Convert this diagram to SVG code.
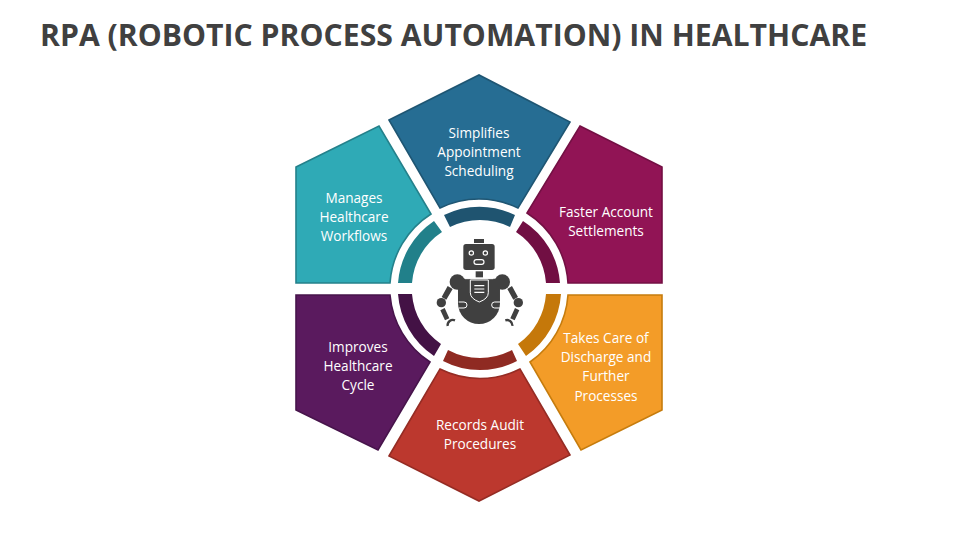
<svg xmlns="http://www.w3.org/2000/svg" width="960" height="540" viewBox="0 0 960 540">
<style>
.t{font-family:"Open Sans","Liberation Sans",sans-serif;font-size:13.6px;font-weight:500;fill:#fff;text-anchor:middle}
.h{font-family:"Open Sans","Liberation Sans",sans-serif;font-size:30.2px;font-weight:700;fill:#404040}
.s{stroke-width:1.6;stroke-linejoin:miter}
.r{fill:#404040}
.w{fill:none;stroke:#fff;stroke-width:3}
</style>
<rect width="960" height="540" fill="#fff"/>
<text class="h" x="40" y="46">RPA (ROBOTIC PROCESS AUTOMATION) IN HEALTHCARE</text>
<g id="connectors"></g>
<g id="node-top">
<path class="s" d="M389 120L479 75L570 122L518 208A89 89 0 0 0 440 208Z" fill="#266d93" stroke="#1f5673"/>
<path d="M444 215A80 80 0 0 1 515 215L510 227A68 68 0 0 0 450 227Z" fill="#1f5470"/>
<text class="t" x="479" y="138">Simplifies</text><text class="t" x="479" y="157">Appointment</text><text class="t" x="479" y="176">Scheduling</text>
</g>
<g id="node-right-top">
<path class="s" d="M580 126L662 167L662 283L568 283A89 89 0 0 0 527 213Z" fill="#911455" stroke="#741044"/>
<path d="M523 221A80 80 0 0 1 560 283L546 283A67 67 0 0 0 516 232Z" fill="#710f43"/>
<text class="t" x="606" y="217">Faster Account</text><text class="t" x="606" y="236">Settlements</text>
</g>
<g id="node-right-bottom">
<path class="s" d="M662 295L662 410L581 450L530 362A89 89 0 0 0 568 295Z" fill="#f39c28" stroke="#c67c0d"/>
<path d="M546 294L561 294A82 82 0 0 1 526 356L518 344A67 67 0 0 0 546 294Z" fill="#c5780a"/>
<text class="t" x="606" y="343">Takes Care of</text><text class="t" x="606" y="362">Discharge and</text><text class="t" x="606" y="381">Further</text><text class="t" x="606" y="401">Processes</text>
</g>
<g id="node-bottom">
<path class="s" d="M389 456L440 369A89 89 0 0 0 520 369L570 455L479 501Z" fill="#bc382e" stroke="#952c24"/>
<path d="M448 350A68 68 0 0 0 512 350L517 361A80 80 0 0 1 443 361Z" fill="#8f2a22"/>
<text class="t" x="480" y="430">Records Audit</text><text class="t" x="480" y="449">Procedures</text>
</g>
<g id="node-left-bottom">
<path class="s" d="M296 295L390 295A89 89 0 0 0 430 362L378 450L296 410Z" fill="#5a1a5e" stroke="#47144b"/>
<path d="M398 294L412 294A67 67 0 0 0 441 344L434 356A82 82 0 0 1 398 294Z" fill="#431245"/>
<text class="t" x="358" y="352">Improves</text><text class="t" x="358" y="371">Healthcare</text><text class="t" x="358" y="390">Cycle</text>
</g>
<g id="node-left-top">
<path class="s" d="M296 167L379 126L431 214A89 89 0 0 0 390 283L296 283Z" fill="#2faab6" stroke="#24818b"/>
<path d="M434 221L442 232A67 67 0 0 0 412 283L398 283A82 82 0 0 1 434 221Z" fill="#21808a"/>
<text class="t" x="354" y="203">Manages</text><text class="t" x="354" y="222">Healthcare</text><text class="t" x="354" y="241">Workflows</text>
</g>
<g id="node-robot" transform="translate(380 200) scale(.3333)">
<rect class="r" x="282" y="117" width="30" height="12"/>
<rect class="r" x="250" y="132" width="94" height="78" rx="8"/>
<circle cx="274" cy="159" r="6.5" fill="none" stroke="#fff" stroke-width="3.5"/>
<circle cx="316" cy="159" r="6.5" fill="none" stroke="#fff" stroke-width="3.5"/>
<rect x="282" y="179" width="30" height="14" rx="7" fill="none" stroke="#fff" stroke-width="3.5"/>
<rect class="r" x="287" y="214" width="22" height="18"/>
<path class="r" d="M234 236H360V310A63 62 0 0 1 234 310Z"/>
<circle class="r" cx="232" cy="246" r="23"/>
<circle class="r" cx="367" cy="246" r="23"/>
<path class="w" d="M255 236H340M236 306H252A9 9 0 0 1 252 324H236M362 306H344A9 9 0 0 0 344 324H362"/>
<path d="M271 240H325V278Q325 296 298 306Q271 296 271 278Z" fill="#404040" stroke="#fff" stroke-width="3"/>
<path d="M283 257H313M283 267H313M283 277H313" stroke="#fff" stroke-width="3.5"/>
<path class="r" d="M203 258L218 267L199 299L185 291ZM396 258L382 267L400 299L414 291Z"/>
<circle class="r" cx="184" cy="308" r="14"/>
<circle class="r" cx="415" cy="308" r="14"/>
<path class="r" d="M194 324L208 355L195 361L181 331ZM405 324L391 355L404 361L418 331Z"/>
<path d="M225 361A16 16 0 0 0 203 378" fill="none" stroke="#404040" stroke-width="7"/>
<path d="M376 361A16 16 0 0 1 397 378" fill="none" stroke="#404040" stroke-width="7"/>
</g>
</svg>
